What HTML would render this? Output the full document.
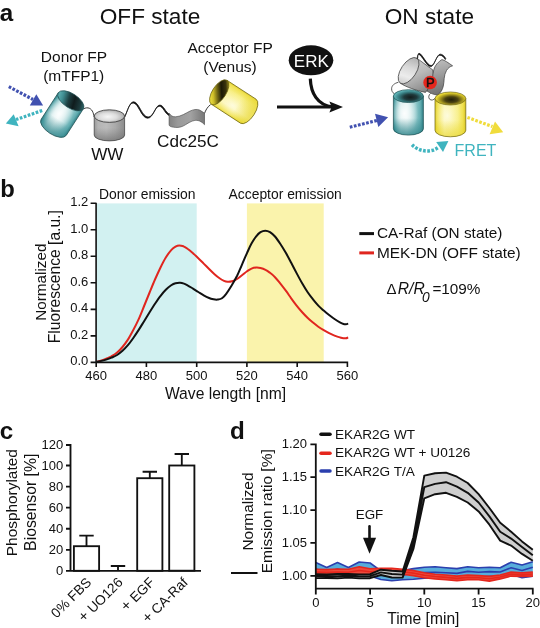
<!DOCTYPE html>
<html lang="en">
<head>
<meta charset="utf-8">
<title>ERK FRET biosensor figure</title>
<style>
html,body{margin:0;padding:0;background:#fff;}
body{width:540px;height:628px;overflow:hidden;}
svg{display:block;}
text{font-family:"Liberation Sans",sans-serif;fill:#111;}
.b{font-weight:bold;}
</style>
</head>
<body>
<svg width="540" height="628" viewBox="0 0 540 628">
<rect width="540" height="628" fill="#fff"/>
<defs>
<linearGradient id="tealB" gradientUnits="userSpaceOnUse" x1="-15" y1="0" x2="15" y2="0">
<stop offset="0" stop-color="#2b8187"/><stop offset="0.08" stop-color="#5aa9ad"/><stop offset="0.25" stop-color="#b9dfe0"/><stop offset="0.45" stop-color="#d4eded"/><stop offset="0.7" stop-color="#9ccfd1"/><stop offset="0.9" stop-color="#62adb1"/><stop offset="1" stop-color="#2f7f85"/>
</linearGradient>
<radialGradient id="hiW" cx="0.5" cy="0.5" r="0.5">
<stop offset="0" stop-color="#fff" stop-opacity="0.95"/><stop offset="0.45" stop-color="#fff" stop-opacity="0.6"/><stop offset="1" stop-color="#fff" stop-opacity="0"/>
</radialGradient>
<radialGradient id="hiY" cx="0.5" cy="0.5" r="0.5">
<stop offset="0" stop-color="#fffef2" stop-opacity="0.7"/><stop offset="0.45" stop-color="#fffce0" stop-opacity="0.35"/><stop offset="1" stop-color="#fff8c0" stop-opacity="0"/>
</radialGradient>
<linearGradient id="shT" gradientUnits="userSpaceOnUse" x1="0" y1="0" x2="0" y2="40">
<stop offset="0" stop-color="#2b8187" stop-opacity="0"/><stop offset="0.55" stop-color="#2b8187" stop-opacity="0"/><stop offset="0.95" stop-color="#2b8187" stop-opacity="0.75"/>
</linearGradient>
<linearGradient id="shY" gradientUnits="userSpaceOnUse" x1="0" y1="0" x2="0" y2="40">
<stop offset="0" stop-color="#e6d52c" stop-opacity="0"/><stop offset="0.55" stop-color="#e6d52c" stop-opacity="0"/><stop offset="0.95" stop-color="#e6d52c" stop-opacity="0.6"/>
</linearGradient>
<linearGradient id="tealI" gradientUnits="userSpaceOnUse" x1="-14" y1="4" x2="14" y2="-4">
<stop offset="0" stop-color="#63b5b8"/><stop offset="0.2" stop-color="#3f8d91"/><stop offset="0.42" stop-color="#1d3f41"/><stop offset="0.62" stop-color="#101c1d"/><stop offset="0.85" stop-color="#1c3a3c"/><stop offset="1" stop-color="#31686c"/>
</linearGradient>
<linearGradient id="yelB" gradientUnits="userSpaceOnUse" x1="-15" y1="0" x2="15" y2="0">
<stop offset="0" stop-color="#e2cf2a"/><stop offset="0.08" stop-color="#f0e250"/><stop offset="0.3" stop-color="#fbf5b2"/><stop offset="0.5" stop-color="#faf3a0"/><stop offset="0.75" stop-color="#f7ee82"/><stop offset="0.92" stop-color="#f0e150"/><stop offset="1" stop-color="#dac724"/>
</linearGradient>
<linearGradient id="yelI" gradientUnits="userSpaceOnUse" x1="-6" y1="-8" x2="6" y2="8">
<stop offset="0" stop-color="#f2e444"/><stop offset="0.2" stop-color="#cdbd28"/><stop offset="0.42" stop-color="#6c6214"/><stop offset="0.62" stop-color="#1c1906"/><stop offset="0.85" stop-color="#3a340c"/><stop offset="1" stop-color="#8d801a"/>
</linearGradient>
<radialGradient id="tealI2" gradientUnits="userSpaceOnUse" cx="2" cy="2.5" r="16" gradientTransform="scale(1 0.45)">
<stop offset="0" stop-color="#141d1d"/><stop offset="0.4" stop-color="#1f3a3c"/><stop offset="0.7" stop-color="#35787c"/><stop offset="0.9" stop-color="#4e9fa3"/><stop offset="1" stop-color="#5fb2b5"/>
</radialGradient>
<radialGradient id="yelI2" gradientUnits="userSpaceOnUse" cx="1" cy="2.5" r="16" gradientTransform="scale(1 0.45)">
<stop offset="0" stop-color="#221f08"/><stop offset="0.4" stop-color="#4a4210"/><stop offset="0.7" stop-color="#a5961e"/><stop offset="0.9" stop-color="#dccb2c"/><stop offset="1" stop-color="#efe040"/>
</radialGradient>
<linearGradient id="gryB" gradientUnits="userSpaceOnUse" x1="-15" y1="0" x2="15" y2="0">
<stop offset="0" stop-color="#9a9a9a"/><stop offset="0.12" stop-color="#b4b4b4"/><stop offset="0.4" stop-color="#bcbcbc"/><stop offset="0.7" stop-color="#aaa"/><stop offset="1" stop-color="#8c8c8c"/>
</linearGradient>
<linearGradient id="shG" gradientUnits="userSpaceOnUse" x1="0" y1="0" x2="0" y2="26">
<stop offset="0" stop-color="#777" stop-opacity="0"/><stop offset="0.45" stop-color="#777" stop-opacity="0"/><stop offset="1" stop-color="#6a6a6a" stop-opacity="0.75"/>
</linearGradient>
<radialGradient id="gryTr" cx="0.45" cy="0.55" r="0.6">
<stop offset="0" stop-color="#f6f6f6"/><stop offset="0.5" stop-color="#dcdcdc"/><stop offset="1" stop-color="#a4a4a4"/>
</radialGradient>
<linearGradient id="gryT" gradientUnits="userSpaceOnUse" x1="-15" y1="-6" x2="15" y2="6">
<stop offset="0" stop-color="#b5b5b5"/><stop offset="0.5" stop-color="#e9e9e9"/><stop offset="1" stop-color="#c4c4c4"/>
</linearGradient>
<linearGradient id="rib" gradientUnits="userSpaceOnUse" x1="169" y1="0" x2="205" y2="0">
<stop offset="0" stop-color="#828282"/><stop offset="0.25" stop-color="#9a9a9a"/><stop offset="0.6" stop-color="#a2a2a2"/><stop offset="0.85" stop-color="#858585"/><stop offset="1" stop-color="#767676"/>
</linearGradient>
<linearGradient id="rib2" gradientUnits="userSpaceOnUse" x1="438" y1="60" x2="446" y2="94">
<stop offset="0" stop-color="#bcbcbc"/><stop offset="0.35" stop-color="#a2a2a2"/><stop offset="0.7" stop-color="#858585"/><stop offset="1" stop-color="#6e6e6e"/>
</linearGradient>
<linearGradient id="gryB2" gradientUnits="userSpaceOnUse" x1="410" y1="62" x2="426" y2="94">
<stop offset="0" stop-color="#cdcdcd"/><stop offset="0.4" stop-color="#bababa"/><stop offset="0.75" stop-color="#999"/><stop offset="1" stop-color="#7a7a7a"/>
</linearGradient>
<linearGradient id="gryT2" gradientUnits="userSpaceOnUse" x1="-15" y1="4" x2="15" y2="-4">
<stop offset="0" stop-color="#c9c9c9"/><stop offset="0.3" stop-color="#ececec"/><stop offset="0.6" stop-color="#d9d9d9"/><stop offset="1" stop-color="#adadad"/>
</linearGradient>
</defs>
<text class="b" x="-0.3" y="21" font-size="24.2">a</text>
<text x="99.7" y="24.4" font-size="22.65">OFF state</text>
<text x="384.7" y="24" font-size="22.65">ON state</text>
<text x="74" y="62" font-size="15.5" text-anchor="middle">Donor FP</text>
<text x="73.7" y="81.3" font-size="15.5" text-anchor="middle">(mTFP1)</text>
<text x="187.5" y="52.8" font-size="15.5">Acceptor FP</text>
<text x="230" y="72.4" font-size="15.5" text-anchor="middle">(Venus)</text>
<text x="107.3" y="160.4" font-size="17.1" text-anchor="middle">WW</text>
<text x="188" y="146.6" font-size="17.15" text-anchor="middle">Cdc25C</text>
<path d="M83.5 108.8C88 106.5 91.5 108.5 93 112.5C93.8 114.5 94 116 94.2 117" fill="none" stroke="#222" stroke-width="0.9"/>
<path d="M124.60 117.00C127.00 112.40 129.00 103.00 133.10 103.00C138.40 103.00 141.30 118.20 147.60 118.20C153.30 118.20 154.80 106.30 159.30 106.30C163.20 106.30 164.60 113.50 169.20 115.60L169.75 114.40C165.15 112.30 163.75 105.10 159.85 105.10C155.35 105.10 153.85 117.00 148.15 117.00C141.85 117.00 138.95 101.80 133.65 101.80C129.55 101.80 127.55 111.20 125.15 115.80Z" fill="#111" stroke="#111" stroke-width="0.75" stroke-linejoin="round"/>
<path d="M204.5 113.4C205.6 110.5 207.2 107 210.6 104.6" fill="none" stroke="#222" stroke-width="0.9"/>
<path d="M169.1 113.3C171 116 173 116.9 175.5 116.8C181 116.6 186 113 190 111.1C193 109.6 197 108.8 199.5 110C201.5 111 203 112.2 204.5 113.3L204.5 124.7C203 123 201.5 121.8 199.5 121C196 119.6 192.5 120.6 188 123.2C184.5 125.3 182 127.2 178 127.4C175 127.6 172 127.2 170.2 126.3C169.4 125.9 169.1 125.4 169.1 124.6Z" fill="url(#rib)" stroke="#444" stroke-width="0.6"/>
<g transform="translate(109.4 116.1)"><path d="M-15.2 0L-15.2 19A15.2 5.8 0 0 0 15.2 19L15.2 0Z" fill="url(#gryB)"/><path d="M-15.2 0L-15.2 19A15.2 5.8 0 0 0 15.2 19L15.2 0Z" fill="url(#shG)" stroke="#3a3a3a" stroke-width="0.7"/><ellipse cx="0" cy="0" rx="15.2" ry="6.3" fill="url(#gryTr)" stroke="#333" stroke-width="0.8"/></g>
<g transform="translate(70.8 100.8) rotate(32.8)"><path d="M-14.9 0L-14.9 31.5A14.9 7.2 0 0 0 14.9 31.5L14.9 0Z" fill="url(#tealB)"/><ellipse cx="-3.0" cy="17.4" rx="13.7" ry="19.5" fill="url(#hiW)"/><path d="M-14.9 0L-14.9 31.5A14.9 7.2 0 0 0 14.9 31.5L14.9 0Z" fill="url(#shT)"/><path d="M-14.9 0L-14.9 31.5A14.9 7.2 0 0 0 14.9 31.5L14.9 0Z" fill="none" stroke="#1d4d50" stroke-width="0.7"/><ellipse cx="0" cy="0" rx="14.9" ry="7.2" fill="url(#tealI)" stroke="#1d4d50" stroke-width="0.7"/></g>
<g transform="translate(219.2 92.3) rotate(-57.0)"><path d="M-14.3 0L-14.3 34.6A14.3 6.8 0 0 0 14.3 34.6L14.3 0Z" fill="url(#yelB)"/><ellipse cx="-3.5" cy="18.5" rx="13.2" ry="21.5" fill="url(#hiY)"/><path d="M-14.3 0L-14.3 34.6A14.3 6.8 0 0 0 14.3 34.6L14.3 0Z" fill="url(#shY)"/><path d="M-14.3 0L-14.3 34.6A14.3 6.8 0 0 0 14.3 34.6L14.3 0Z" fill="none" stroke="#6b6210" stroke-width="0.7"/><ellipse cx="0" cy="0" rx="14.3" ry="6.8" fill="url(#yelI)" stroke="#6b6210" stroke-width="0.7"/></g>
<line x1="8.8" y1="86.6" x2="33.0" y2="99.5" stroke="#4151b0" stroke-width="3.2" stroke-dasharray="2.7 1.5"/><polygon points="29.8,105.5 36.3,94.2 43.1,105.5" fill="#4151b0"/>
<line x1="42.2" y1="110.5" x2="16.0" y2="119.6" stroke="#3fb4bf" stroke-width="3.2" stroke-dasharray="2.7 1.5"/><polygon points="5.8,123.4 13.7,114.2 18.6,126.2" fill="#3fb4bf"/>
<path d="M310.3 78.6C310.8 92.5 317 105.5 333 107" fill="none" stroke="#111" stroke-width="3.2"/>
<line x1="277" y1="107" x2="334" y2="107" stroke="#111" stroke-width="3.2"/>
<polygon points="343,107 329.4,101.5 331.6,107 329.4,112.5" fill="#111"/>
<ellipse cx="311" cy="60.3" rx="22.3" ry="15" fill="#111"/>
<text x="311.3" y="66.8" font-size="17" text-anchor="middle" style="fill:#fff">ERK</text>
<path d="M433.6 70.7C434.5 67 436 63.6 441.9 59.6C444.5 60 448.5 63 452.6 65.8C450 66.5 448 68 446.5 70.5C443.5 75.5 444.5 81 443.3 86C442.5 89.5 441 92.5 437.6 95C433.5 94.8 430 93 426.7 90.8Z" fill="url(#rib2)" stroke="#3a3a3a" stroke-width="0.7"/>
<path d="M416.9 58.2L432.9 70C433.5 78 431 86 425.5 92.4C416 90.5 406 87 400.3 83.2Z" fill="url(#gryB2)" stroke="#3a3a3a" stroke-width="0.7"/>
<g transform="translate(408.6 70.7) rotate(-56.4)"><ellipse cx="0" cy="0" rx="15" ry="7.6" fill="url(#gryT2)" stroke="#3a3a3a" stroke-width="0.7"/></g>
<path d="M417.30 58.60C417.40 56.00 417.70 54.40 418.70 54.40C421.60 54.40 426.40 66.60 430.70 66.60C434.40 66.60 436.10 55.20 439.90 55.20C442.10 55.20 444.10 57.40 445.30 59.60L445.75 58.55C444.55 56.35 442.55 54.15 440.35 54.15C436.55 54.15 434.85 65.55 431.15 65.55C426.85 65.55 422.05 53.35 419.15 53.35C418.15 53.35 417.85 54.95 417.75 57.55Z" fill="#111" stroke="#111" stroke-width="0.70" stroke-linejoin="round"/>
<path d="M398.4 82.3C394.5 83.2 391.6 85.5 391.6 88.8C391.6 91 392.6 92.6 394 93.6" fill="none" stroke="#333" stroke-width="0.8"/>
<path d="M430.6 93.4C428.6 94.8 428.2 97.6 429.6 99.2C431.2 100.8 433.8 100 435.2 98.2" fill="none" stroke="#333" stroke-width="0.8"/>
<circle cx="430.1" cy="82.5" r="6.8" fill="#e5271d"/>
<text x="430.4" y="87.3" font-size="13" text-anchor="middle" style="stroke:#111;stroke-width:0.45">P</text>
<g transform="translate(408.4 96.1) rotate(0.0)"><path d="M-15.0 0L-15.0 32.6A15.0 6.4 0 0 0 15.0 32.6L15.0 0Z" fill="url(#tealB)"/><ellipse cx="-4.0" cy="17.4" rx="13.8" ry="22.0" fill="url(#hiW)"/><path d="M-15.0 0L-15.0 32.6A15.0 6.4 0 0 0 15.0 32.6L15.0 0Z" fill="url(#shT)"/><path d="M-15.0 0L-15.0 32.6A15.0 6.4 0 0 0 15.0 32.6L15.0 0Z" fill="none" stroke="#1d4d50" stroke-width="0.7"/><ellipse cx="0" cy="0" rx="15.0" ry="6.4" fill="url(#tealI2)" stroke="#1d4d50" stroke-width="0.7"/></g>
<g transform="translate(450.4 98.5) rotate(0.0)"><path d="M-15.4 0L-15.4 31.8A15.4 6.5 0 0 0 15.4 31.8L15.4 0Z" fill="url(#yelB)"/><ellipse cx="-3.0" cy="17.1" rx="14.2" ry="19.7" fill="url(#hiY)"/><path d="M-15.4 0L-15.4 31.8A15.4 6.5 0 0 0 15.4 31.8L15.4 0Z" fill="url(#shY)"/><path d="M-15.4 0L-15.4 31.8A15.4 6.5 0 0 0 15.4 31.8L15.4 0Z" fill="none" stroke="#6b6210" stroke-width="0.7"/><ellipse cx="0" cy="0" rx="15.4" ry="6.5" fill="url(#yelI2)" stroke="#6b6210" stroke-width="0.7"/></g>
<line x1="349.8" y1="127.2" x2="377.0" y2="120.5" stroke="#4151b0" stroke-width="3.2" stroke-dasharray="2.7 1.5"/><polygon points="375.0,113.7 388.1,117.3 378.3,127.1" fill="#4151b0"/>
<line x1="467.4" y1="117.4" x2="492.5" y2="126.6" stroke="#f0dc3c" stroke-width="3.2" stroke-dasharray="2.7 1.5"/><polygon points="495.0,121.4 503.2,132.2 489.6,134.2" fill="#f0dc3c"/>
<path d="M412 144.8C418 150.5 429 154 438 147.6" fill="none" stroke="#3fb4bf" stroke-width="3.5" stroke-dasharray="2.7 1.5"/>
<polygon points="436.2,142 448.4,141 443,151.9" fill="#3fb4bf"/>
<text x="454.6" y="156.2" font-size="16" style="fill:#3fb4bf">FRET</text>
<text class="b" x="0.2" y="197" font-size="23.8">b</text>
<rect x="96.8" y="203.4" width="99.9" height="159.0" fill="#d2f1f1"/>
<rect x="246.9" y="203.4" width="76.8" height="159.0" fill="#faf3ac"/>
<text x="99" y="198.6" font-size="13.9">Donor emission</text>
<text x="228.6" y="198.6" font-size="13.87">Acceptor emission</text>
<path d="M96.8 361.8C97.6 361.6 99.9 360.9 101.5 360.4C103.1 359.9 104.5 359.3 106.2 358.6C107.9 357.9 109.7 357.3 111.5 356.3C113.3 355.3 115.3 354.2 117.1 352.6C118.9 351.1 120.7 349.2 122.5 347.0C124.3 344.8 126.1 342.4 127.9 339.6C129.7 336.8 131.5 333.4 133.3 330.0C135.1 326.6 136.9 323.1 138.7 319.1C140.5 315.1 142.3 310.4 144.1 306.0C145.9 301.6 147.8 296.9 149.6 292.5C151.4 288.1 153.2 283.6 155.0 279.5C156.8 275.4 158.6 271.4 160.4 267.7C162.2 264.0 164.0 260.4 165.8 257.5C167.6 254.6 169.6 251.9 171.2 250.1C172.8 248.3 174.2 247.4 175.5 246.6C176.8 245.8 178.0 245.4 179.3 245.4C180.6 245.4 182.1 245.8 183.5 246.3C184.9 246.9 185.9 247.5 187.5 248.7C189.1 249.8 191.2 251.6 193.0 253.2C194.8 254.8 196.5 256.5 198.3 258.2C200.1 259.9 201.9 261.8 203.7 263.6C205.5 265.4 207.3 267.2 209.1 269.0C210.9 270.8 212.7 272.6 214.5 274.2C216.3 275.8 218.3 277.4 219.9 278.5C221.5 279.6 222.7 280.2 224.0 280.8C225.3 281.4 226.3 281.7 227.6 281.8C228.9 281.9 230.4 281.8 232.0 281.3C233.6 280.8 235.4 280.0 237.1 279.0C238.8 278.0 240.3 276.6 242.0 275.3C243.7 274.0 245.5 272.3 247.1 271.2C248.7 270.1 250.0 269.2 251.5 268.6C253.0 268.0 254.5 267.7 256.0 267.6C257.5 267.5 258.9 267.6 260.5 268.0C262.1 268.4 263.9 269.0 265.5 269.8C267.1 270.6 268.4 271.6 270.0 272.8C271.6 274.0 273.3 275.4 275.0 277.2C276.7 279.0 278.6 281.4 280.4 283.6C282.2 285.9 284.0 288.2 285.8 290.7C287.6 293.1 289.4 295.8 291.2 298.3C293.0 300.8 294.8 303.3 296.6 305.6C298.4 307.9 300.2 310.0 302.0 312.0C303.8 314.0 305.7 316.0 307.5 317.8C309.3 319.6 311.2 321.1 313.0 322.6C314.8 324.1 316.5 325.4 318.3 326.7C320.1 328.0 321.9 329.1 323.7 330.2C325.5 331.3 327.3 332.3 329.1 333.2C330.9 334.1 332.7 334.9 334.5 335.6C336.3 336.3 338.4 337.0 339.9 337.4C341.4 337.8 342.5 338.1 343.5 338.2C344.5 338.3 345.2 338.3 346.0 338.2C346.8 338.1 347.8 337.6 348.2 337.5" fill="none" stroke="#e0261f" stroke-width="2" stroke-linejoin="round"/>
<path d="M96.8 361.9C97.6 361.7 99.9 361.3 101.5 360.9C103.1 360.5 104.5 360.1 106.2 359.6C107.9 359.1 109.7 358.5 111.5 357.7C113.3 356.9 115.3 356.1 117.1 355.0C118.9 353.9 120.7 352.4 122.5 350.8C124.3 349.2 126.1 347.3 127.9 345.2C129.7 343.1 131.5 340.6 133.3 338.0C135.1 335.4 136.9 332.7 138.7 329.9C140.5 327.1 142.3 324.1 144.1 321.2C145.9 318.3 147.8 315.2 149.6 312.3C151.4 309.4 153.2 306.5 155.0 303.8C156.8 301.1 158.6 298.4 160.4 296.1C162.2 293.8 164.0 291.6 165.8 289.8C167.6 288.0 169.6 286.4 171.2 285.3C172.8 284.2 174.0 283.6 175.5 283.2C177.0 282.8 178.7 282.6 180.1 282.7C181.5 282.8 182.8 283.2 184.0 283.6C185.2 284.0 186.0 284.5 187.5 285.3C189.0 286.1 191.2 287.5 193.0 288.6C194.8 289.7 196.5 290.9 198.3 292.0C200.1 293.1 201.9 294.3 203.7 295.3C205.5 296.3 207.5 297.3 209.1 298.0C210.7 298.7 212.1 299.0 213.5 299.3C214.9 299.6 216.2 299.8 217.6 299.6C219.0 299.4 220.6 299.3 222.0 298.3C223.4 297.3 224.6 295.9 226.2 293.8C227.8 291.7 229.7 288.8 231.5 285.8C233.3 282.8 235.3 279.3 237.1 275.8C238.8 272.3 240.3 268.4 242.0 264.6C243.7 260.8 245.5 256.3 247.1 252.8C248.7 249.3 250.0 246.3 251.5 243.6C253.0 240.9 254.5 238.5 256.0 236.6C257.5 234.7 258.9 233.2 260.5 232.2C262.1 231.2 263.7 230.7 265.3 230.7C266.9 230.7 268.4 231.2 270.0 232.2C271.6 233.2 273.3 234.5 275.0 236.5C276.7 238.5 278.6 241.3 280.4 244.0C282.2 246.7 284.0 249.7 285.8 252.8C287.6 255.9 289.4 259.4 291.2 262.8C293.0 266.2 294.8 269.7 296.6 273.1C298.4 276.5 300.2 279.9 302.0 283.0C303.8 286.1 305.7 289.3 307.5 292.0C309.3 294.7 311.2 297.1 313.0 299.4C314.8 301.7 316.5 303.7 318.3 305.6C320.1 307.5 321.9 309.0 323.7 310.6C325.5 312.2 327.3 313.6 329.1 315.0C330.9 316.4 332.7 317.8 334.5 319.0C336.3 320.2 338.4 321.6 339.9 322.4C341.4 323.2 342.5 323.7 343.5 324.0C344.5 324.3 345.2 324.4 346.0 324.3C346.8 324.2 347.8 323.7 348.2 323.6" fill="none" stroke="#111" stroke-width="2" stroke-linejoin="round"/>
<path d="M96.1 202.7V363.2M95.3 362.4H348.2M90.6 362.4H96.1M90.6 335.9H96.1M90.6 309.4H96.1M90.6 282.8H96.1M90.6 256.3H96.1M90.6 229.8H96.1M90.6 203.3H96.1M96.2 362.4V366.9M146.4 362.4V366.9M196.7 362.4V366.9M246.9 362.4V366.9M297.2 362.4V366.9M347.4 362.4V366.9" fill="none" stroke="#111" stroke-width="1.6"/>
<text x="88.3" y="365.4" font-size="13" text-anchor="end">0.0</text>
<text x="88.3" y="338.9" font-size="13" text-anchor="end">0.2</text>
<text x="88.3" y="312.4" font-size="13" text-anchor="end">0.4</text>
<text x="88.3" y="285.8" font-size="13" text-anchor="end">0.6</text>
<text x="88.3" y="259.3" font-size="13" text-anchor="end">0.8</text>
<text x="88.3" y="232.8" font-size="13" text-anchor="end">1.0</text>
<text x="88.3" y="206.3" font-size="13" text-anchor="end">1.2</text>
<text x="96.2" y="379.8" font-size="13" text-anchor="middle">460</text>
<text x="146.4" y="379.8" font-size="13" text-anchor="middle">480</text>
<text x="196.7" y="379.8" font-size="13" text-anchor="middle">500</text>
<text x="246.9" y="379.8" font-size="13" text-anchor="middle">520</text>
<text x="297.2" y="379.8" font-size="13" text-anchor="middle">540</text>
<text x="347.4" y="379.8" font-size="13" text-anchor="middle">560</text>
<text x="225.5" y="399.3" font-size="15.65" text-anchor="middle">Wave length [nm]</text>
<text transform="translate(46.0 282.2) rotate(-90)" font-size="15.3" text-anchor="middle">Normalized</text>
<text transform="translate(60.3 276.7) rotate(-90)" font-size="15.65" text-anchor="middle">Fluorescence [a.u.]</text>
<line x1="359.3" y1="233.6" x2="374" y2="233.6" stroke="#111" stroke-width="3"/>
<line x1="359.3" y1="252.9" x2="374" y2="252.9" stroke="#e0261f" stroke-width="3"/>
<text x="377" y="238.3" font-size="15.35">CA-Raf (ON state)</text>
<text x="377" y="257.7" font-size="15.4">MEK-DN (OFF state)</text>
<text x="386.6" y="293.8" font-size="15">&#916;</text>
<text x="397.8" y="293.8" font-size="15.6" font-style="italic">R/R</text>
<text x="422" y="301.5" font-size="13.8" font-style="italic">0</text>
<text x="432.4" y="293.8" font-size="15.3">=109%</text>
<text class="b" x="-0.3" y="438.7" font-size="24.2">c</text>
<path d="M86.5 546.2V535.6M79.3 535.6H93.7M118.0 570.3V566.0M110.8 566.0H125.2M149.8 478.2V471.7M142.6 471.7H157.0M181.8 465.5V454.0M174.6 454.0H189.0" fill="none" stroke="#111" stroke-width="1.85"/>
<rect x="73.9" y="546.2" width="25.2" height="24.6" fill="#fff" stroke="#111" stroke-width="1.85"/>
<rect x="137.2" y="478.2" width="25.2" height="92.6" fill="#fff" stroke="#111" stroke-width="1.85"/>
<rect x="169.2" y="465.5" width="25.2" height="105.2" fill="#fff" stroke="#111" stroke-width="1.85"/>
<path d="M70.5 444V571.7M69.7 570.8H201M66 570.8H70.5M66 549.8H70.5M66 528.7H70.5M66 507.6H70.5M66 486.6H70.5M66 465.5H70.5M66 445.0H70.5" fill="none" stroke="#111" stroke-width="1.85"/>
<text x="63.3" y="575.0" font-size="13" text-anchor="end">0</text>
<text x="63.3" y="554.0" font-size="13" text-anchor="end">20</text>
<text x="63.3" y="532.9" font-size="13" text-anchor="end">40</text>
<text x="63.3" y="511.8" font-size="13" text-anchor="end">60</text>
<text x="63.3" y="490.8" font-size="13" text-anchor="end">80</text>
<text x="63.3" y="469.7" font-size="13" text-anchor="end">100</text>
<text x="63.3" y="448.7" font-size="13" text-anchor="end">120</text>
<text transform="translate(92.1 583.2) rotate(-45)" font-size="13.7" text-anchor="end">0% FBS</text>
<text transform="translate(123.6 583.2) rotate(-45)" font-size="13.7" text-anchor="end"><tspan font-size="15">+</tspan> UO126</text>
<text transform="translate(155.4 583.2) rotate(-45)" font-size="13.7" text-anchor="end"><tspan font-size="15">+</tspan> EGF</text>
<text transform="translate(188.6 583.2) rotate(-45)" font-size="13.7" text-anchor="end"><tspan font-size="15">+</tspan> CA-Raf</text>
<text transform="translate(16.8 502.7) rotate(-90)" font-size="15.4" text-anchor="middle">Phosphorylated</text>
<text transform="translate(35.7 502.3) rotate(-90)" font-size="15.75" text-anchor="middle">Biosensor [%]</text>
<text class="b" x="230" y="439" font-size="24.2">d</text>
<path d="M315.8 562.5L326.7 567.5L337.5 562.5L348.4 567.5L359.2 562.0L370.1 563.0L380.9 570.8L391.8 572.0L402.6 570.6L413.4 568.6L424.3 567.2L435.1 566.8L446.0 567.8L456.9 568.6L467.7 566.7L478.6 567.8L489.4 567.2L500.2 567.8L511.1 562.2L522.0 565.0L532.8 561.7L532.8 576.1L522.0 577.8L511.1 574.2L500.2 576.6L489.4 576.4L478.6 577.0L467.7 576.5L456.9 578.2L446.0 578.0L435.1 577.8L424.3 578.3L413.4 579.3L402.6 579.7L391.8 580.8L380.9 579.5L370.1 576.0L359.2 575.0L348.4 576.5L337.5 575.0L326.7 576.5L315.8 575.0Z" fill="#57addb" stroke="none"/><path d="M315.8 562.5L326.7 567.5L337.5 562.5L348.4 567.5L359.2 562.0L370.1 563.0L380.9 570.8L391.8 572.0L402.6 570.6L413.4 568.6L424.3 567.2L435.1 566.8L446.0 567.8L456.9 568.6L467.7 566.7L478.6 567.8L489.4 567.2L500.2 567.8L511.1 562.2L522.0 565.0L532.8 561.7M315.8 575.0L326.7 576.5L337.5 575.0L348.4 576.5L359.2 575.0L370.1 576.0L380.9 579.5L391.8 580.8L402.6 579.7L413.4 579.3L424.3 578.3L435.1 577.8L446.0 578.0L456.9 578.2L467.7 576.5L478.6 577.0L489.4 576.4L500.2 576.6L511.1 574.2L522.0 577.8L532.8 576.1M315.8 569.0L326.7 572.0L337.5 569.0L348.4 572.0L359.2 568.5L370.1 569.5L380.9 575.0L391.8 576.5L402.6 575.0L413.4 573.5L424.3 572.6L435.1 572.2L446.0 572.8L456.9 573.4L467.7 571.4L478.6 572.2L489.4 571.6L500.2 572.0L511.1 567.8L522.0 570.6L532.8 567.2" fill="none" stroke="#2b3fae" stroke-width="1.6" stroke-linejoin="round"/>
<path d="M315.8 569.2L326.7 569.6L337.5 569.0L348.4 569.2L359.2 566.7L370.1 568.7L380.9 568.4L391.8 568.3L402.6 569.2L413.4 570.6L424.3 572.8L435.1 574.2L446.0 575.0L456.9 576.1L467.7 575.0L478.6 575.6L489.4 576.4L500.2 575.0L511.1 572.0L522.0 572.8L532.8 572.0L532.8 576.1L522.0 576.4L511.1 576.1L500.2 578.9L489.4 581.1L478.6 579.8L467.7 579.7L456.9 580.6L446.0 579.7L435.1 578.9L424.3 577.8L413.4 575.6L402.6 574.2L391.8 573.4L380.9 573.6L370.1 574.6L359.2 574.2L348.4 575.2L337.5 575.0L326.7 575.2L315.8 575.0Z" fill="#ee4a3c" stroke="none"/><path d="M315.8 569.2L326.7 569.6L337.5 569.0L348.4 569.2L359.2 566.7L370.1 568.7L380.9 568.4L391.8 568.3L402.6 569.2L413.4 570.6L424.3 572.8L435.1 574.2L446.0 575.0L456.9 576.1L467.7 575.0L478.6 575.6L489.4 576.4L500.2 575.0L511.1 572.0L522.0 572.8L532.8 572.0M315.8 575.0L326.7 575.2L337.5 575.0L348.4 575.2L359.2 574.2L370.1 574.6L380.9 573.6L391.8 573.4L402.6 574.2L413.4 575.6L424.3 577.8L435.1 578.9L446.0 579.7L456.9 580.6L467.7 579.7L478.6 579.8L489.4 581.1L500.2 578.9L511.1 576.1L522.0 576.4L532.8 576.1M315.8 572.1L326.7 572.4L337.5 572.0L348.4 572.2L359.2 570.5L370.1 571.7L380.9 571.0L391.8 570.8L402.6 571.7L413.4 573.1L424.3 575.3L435.1 576.5L446.0 577.4L456.9 578.4L467.7 577.4L478.6 577.7L489.4 578.8L500.2 577.0L511.1 574.0L522.0 574.6L532.8 574.0" fill="none" stroke="#e5271d" stroke-width="1.6" stroke-linejoin="round"/>
<path d="M315.8 574.2L326.7 574.4L337.5 574.0L348.4 574.0L359.2 574.4L370.1 574.2L380.9 569.7L391.8 570.8L402.6 571.5L413.4 537.2L424.3 475.6L435.1 473.3L446.0 472.6L456.9 476.7L467.7 483.0L478.6 494.2L489.4 508.0L500.2 522.8L511.1 531.7L522.0 541.4L532.8 549.7L532.8 560.8L522.0 553.9L511.1 545.6L500.2 540.6L489.4 524.7L478.6 511.4L467.7 502.5L456.9 496.9L446.0 492.8L435.1 494.2L424.3 498.3L413.4 549.0L402.6 577.6L391.8 577.5L380.9 575.0L370.1 578.2L359.2 578.4L348.4 577.6L337.5 578.4L326.7 578.0L315.8 578.0Z" fill="#cfcfcf" stroke="none"/><path d="M315.8 574.2L326.7 574.4L337.5 574.0L348.4 574.0L359.2 574.4L370.1 574.2L380.9 569.7L391.8 570.8L402.6 571.5L413.4 537.2L424.3 475.6L435.1 473.3L446.0 472.6L456.9 476.7L467.7 483.0L478.6 494.2L489.4 508.0L500.2 522.8L511.1 531.7L522.0 541.4L532.8 549.7M315.8 578.0L326.7 578.0L337.5 578.4L348.4 577.6L359.2 578.4L370.1 578.2L380.9 575.0L391.8 577.5L402.6 577.6L413.4 549.0L424.3 498.3L435.1 494.2L446.0 492.8L456.9 496.9L467.7 502.5L478.6 511.4L489.4 524.7L500.2 540.6L511.1 545.6L522.0 553.9L532.8 560.8M315.8 576.0L326.7 576.2L337.5 576.2L348.4 575.8L359.2 576.4L370.1 576.2L380.9 572.4L391.8 574.0L402.6 574.6L413.4 543.2L424.3 487.2L435.1 483.9L446.0 482.2L456.9 486.7L467.7 492.8L478.6 502.5L489.4 516.4L500.2 531.7L511.1 538.6L522.0 546.9L532.8 555.3" fill="none" stroke="#111" stroke-width="1.9" stroke-linejoin="round"/>
<path d="M315.8 443.5V589.5M315 588.6H533.6M310.4 575.8H315.8M310.4 542.9H315.8M310.4 510.1H315.8M310.4 477.2H315.8M310.4 444.4H315.8M315.8 588.6V594.4M370.1 588.6V594.4M424.3 588.6V594.4M478.6 588.6V594.4M532.8 588.6V594.4" fill="none" stroke="#111" stroke-width="1.8"/>
<text x="307" y="579.6" font-size="13" text-anchor="end">1.00</text>
<text x="307" y="546.7" font-size="13" text-anchor="end">1.05</text>
<text x="307" y="513.9" font-size="13" text-anchor="end">1.10</text>
<text x="307" y="481.1" font-size="13" text-anchor="end">1.15</text>
<text x="307" y="448.2" font-size="13" text-anchor="end">1.20</text>
<text x="315.8" y="607.2" font-size="13" text-anchor="middle">0</text>
<text x="370.1" y="607.2" font-size="13" text-anchor="middle">5</text>
<text x="424.3" y="607.2" font-size="13" text-anchor="middle">10</text>
<text x="478.6" y="607.2" font-size="13" text-anchor="middle">15</text>
<text x="532.8" y="607.2" font-size="13" text-anchor="middle">20</text>
<text x="423.3" y="623.8" font-size="15.6" text-anchor="middle">Time [min]</text>
<text transform="translate(253.4 511.5) rotate(-90)" font-size="15.45" text-anchor="middle">Normalized</text>
<text transform="translate(271.5 511.3) rotate(-90)" font-size="15.5" text-anchor="middle">Emission ratio [%]</text>
<line x1="231" y1="573" x2="257.5" y2="573" stroke="#111" stroke-width="2"/>
<text x="369.5" y="519.4" font-size="13.4" text-anchor="middle">EGF</text>
<line x1="369.5" y1="526.4" x2="369.5" y2="540" stroke="#111" stroke-width="2.6" stroke-linecap="round"/><polygon points="363,537.8 376.1,537.8 369.55,553.7" fill="#111"/>
<line x1="321" y1="434.3" x2="330" y2="434.3" stroke="#111" stroke-width="3.5" stroke-linecap="round"/>
<line x1="321" y1="453.3" x2="330" y2="453.3" stroke="#e5271d" stroke-width="3.5" stroke-linecap="round"/>
<line x1="321" y1="471.0" x2="330" y2="471.0" stroke="#2b3fae" stroke-width="3.5" stroke-linecap="round"/>
<text x="335" y="439.3" font-size="13.6">EKAR2G WT</text>
<text x="335" y="457.4" font-size="13.6">EKAR2G WT + U0126</text>
<text x="335" y="475.8" font-size="13.6">EKAR2G T/A</text>

</svg>
</body>
</html>
